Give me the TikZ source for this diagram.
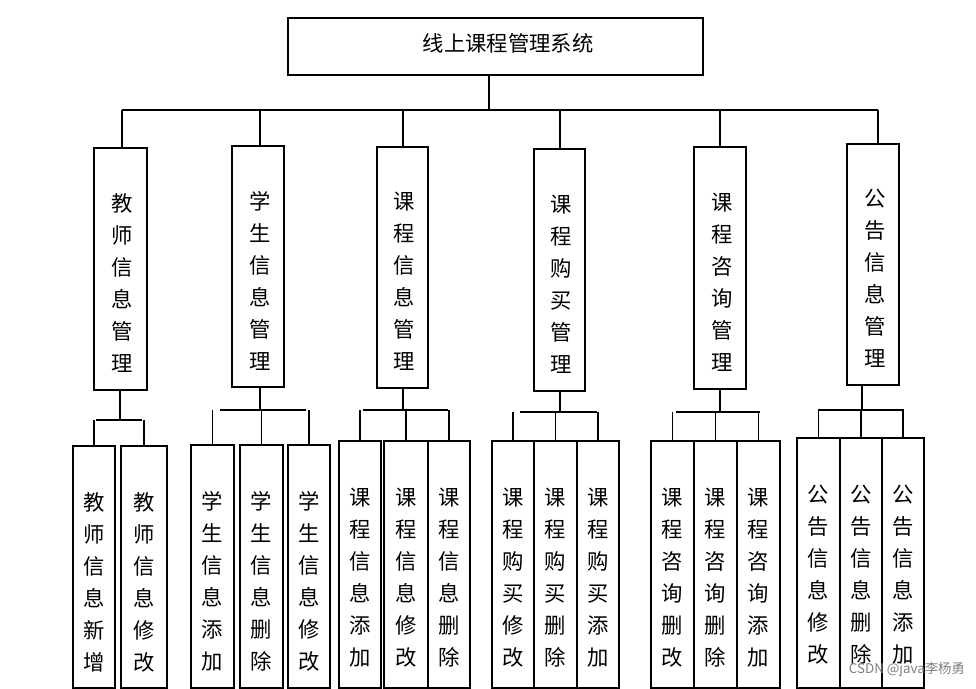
\documentclass[tikz,border=0pt]{standalone}
\usepackage{fontspec}
\newfontfamily\cjk{Noto Sans CJK SC}
\begin{document}
\begin{tikzpicture}[x=0.75pt,y=-0.75pt,line width=1.1pt,
  bx/.style={draw,black},
  vt/.style={font=\cjk\fontsize{16}{24}\selectfont,align=center,inner sep=0pt},
  ln/.style={draw,line width=1.1pt}]
\useasboundingbox (0,0) rectangle (976,689);
\fill[white] (0,0) rectangle (976,689);
\draw[bx] (288,18) rectangle (703,75);
\node[font=\cjk\fontsize{16}{20}\selectfont] (top) at (508,43) {线上课程管理系统};
\coordinate (tb) at (489,75);
\coordinate (tj) at (489,110);
\draw[ln] (tb) -- (tj);
\draw[ln] (122,110) -- (878,110);
% second level
\foreach \n/\xa/\xb/\ya/\yb/\cx/\t in {
 a/94/147/148/390/122/教\\师\\信\\息\\管\\理,
 b/232/284/146/387/260/学\\生\\信\\息\\管\\理,
 c/377/428/147/388/403/课\\程\\信\\息\\管\\理,
 d/534/585/149/391/560/课\\程\\购\\买\\管\\理,
 e/694/746/147/389/720/课\\程\\咨\\询\\管\\理,
 f/847/899/144/385/878/公\\告\\信\\息\\管\\理}{
 \draw[bx] (\xa,\ya) rectangle (\xb,\yb);
 \node[vt] (\n) at ({(\xa+\xb)/2+2},{(\ya+\yb)/2+14}) {\t};
 \draw[ln] (\cx,110) -- (\cx,\ya);
}
% group buses
\foreach \cx/\yb/\y/\l/\r in {120/390/420/96/142, 260/387/410/220/306, 403/388/410/363/448,
  560/391/412/520/597, 720/389/412/676/760, 862/385/410/818/904}{
 \draw[ln] (\cx,\yb) -- (\cx,\y);
 \draw[ln] (\l,\y) -- (\r,\y);
}
% bottom boxes
\foreach \n/\xa/\xb/\ya/\by/\t in {
 a1/73/115/446/420/教\\师\\信\\息\\新\\增,
 a2/121/167/446/420/教\\师\\信\\息\\修\\改,
 b1/191/234/445/410/学\\生\\信\\息\\添\\加,
 b2/240/283/445/410/学\\生\\信\\息\\删\\除,
 b3/288/330/445/410/学\\生\\信\\息\\修\\改,
 c1/339/381/441/410/课\\程\\信\\息\\添\\加,
 c2/384/428/441/410/课\\程\\信\\息\\修\\改,
 c3/428/470/441/410/课\\程\\信\\息\\删\\除,
 d1/492/534/441/412/课\\程\\购\\买\\修\\改,
 d2/534/577/441/412/课\\程\\购\\买\\删\\除,
 d3/577/619/441/412/课\\程\\购\\买\\添\\加,
 e1/651/694/441/412/课\\程\\咨\\询\\删\\改,
 e2/694/737/441/412/课\\程\\咨\\询\\删\\除,
 e3/737/780/441/412/课\\程\\咨\\询\\添\\加,
 f1/797/840/438/410/公\\告\\信\\息\\修\\改,
 f2/840/882/438/410/公\\告\\信\\息\\删\\除,
 f3/882/924/438/410/公\\告\\信\\息\\添\\加}{
 \draw[bx] (\xa,\ya) rectangle (\xb,688);
 \node[vt,anchor=north] (\n) at ({(\xa+\xb)/2},{\ya+46}) {\t};
 \draw[ln] ({(\xa+\xb)/2},\by) -- ({(\xa+\xb)/2},\ya);
}
\node[font=\cjk\fontsize{10}{12}\selectfont,text=gray,anchor=east] (wm) at (970,670) {CSDN @java李杨勇};
\end{tikzpicture}
\end{document}
